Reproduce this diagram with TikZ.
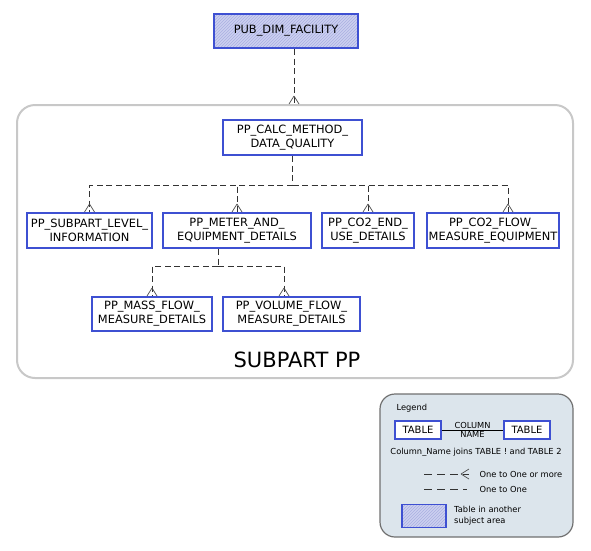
\documentclass[tikz,border=0pt]{standalone}
\usepackage{fontspec}
\setmainfont{DejaVu Sans}
\usetikzlibrary{patterns,decorations.markings}
\definecolor{tblue}{RGB}{62,80,210}
\definecolor{hatchbg}{RGB}{204,208,240}
\definecolor{hatchln}{RGB}{170,176,225}
\definecolor{areagray}{RGB}{200,200,200}
\definecolor{legfill}{RGB}{220,229,236}
\definecolor{legline}{RGB}{112,112,112}
\tikzset{
  tbl/.style={draw=tblue, line width=2pt, fill=white, align=center, inner sep=0pt,
    font=\fontsize{11.4}{14}\selectfont},
  other/.style={tbl, preaction={fill=hatchbg}, pattern=north east lines, pattern color=hatchln},
  rel/.style={draw=black!80, line width=0.8pt, dash pattern=on 6pt off 3.5pt},
  crow/.style={postaction={decorate, decoration={markings, mark=at position 1 with
    {\draw[solid, black!70, line width=0.7pt] (-8pt,0) -- (0,5pt) (-8pt,0) -- (0,-5pt);}}}},
}
\begin{document}
\begin{tikzpicture}[x=1pt, y=-1pt]
      \useasboundingbox (0,0) rectangle (591,550);

      \node[draw=areagray, line width=2pt, rounded corners=18pt, minimum width=556pt, minimum height=273pt] (area) at (295,241.5) {};
      \node[font=\fontsize{21}{24}\selectfont] (title) at (297,360) {SUBPART PP};

      \node[other, minimum width=144pt, minimum height=34pt] (pub) at (286,31) {PUB\_DIM\_FACILITY};
      \node[tbl, minimum width=139pt, minimum height=35pt] (calc) at (292.5,137.5) {PP\_CALC\_METHOD\_\\DATA\_QUALITY};

      \node[tbl, minimum width=125pt, minimum height=35pt] (sub)  at (89.5,230.5) {PP\_SUBPART\_LEVEL\_\\INFORMATION};
      \node[tbl, minimum width=148pt, minimum height=35pt] (meter) at (237,230.5) {PP\_METER\_AND\_\\EQUIPMENT\_DETAILS};
      \node[tbl, minimum width=92pt, minimum height=35pt] (enduse) at (368,230.5) {PP\_CO2\_END\_\\USE\_DETAILS};
      \node[tbl, minimum width=132pt, minimum height=35pt] (flow) at (493,230.5) {PP\_CO2\_FLOW\_\\MEASURE\_EQUIPMENT};

      \node[tbl, minimum width=120pt, minimum height=34pt] (mass) at (152,314) {PP\_MASS\_FLOW\_\\MEASURE\_DETAILS};
      \node[tbl, minimum width=137pt, minimum height=34pt] (vol)  at (291.5,314) {PP\_VOLUME\_FLOW\_\\MEASURE\_DETAILS};

      \coordinate (bus1) at (292.5,185);
      \coordinate (bus2) at (218,266);

      \draw[rel, crow] ([xshift=8pt]pub.south) -- ([xshift=8pt]pub.south |- area.north);
      \draw[rel] (calc) -- (bus1);
      \draw[rel, crow] (bus1) -| (sub);
      \draw[rel, crow] (bus1) -| (meter);
      \draw[rel, crow] (bus1) -| (enduse);
      \draw[rel, crow] (bus1) -| ([xshift=15pt]flow.north);
      \draw[rel] ([xshift=-19pt]meter.south) -- (bus2);
      \draw[rel, crow] (bus2) -| (mass);
      \draw[rel, crow] (bus2) -| ([xshift=-7.5pt]vol.north);

      % legend
      \node[draw=legline, line width=1.2pt, fill=legfill, rounded corners=15pt, minimum width=193pt, minimum height=143pt] (legend) at (476.5,465.5) {};
      \node[anchor=west, font=\fontsize{8.3}{10}\selectfont] (legtitle) at (393,408) {Legend};
      \node[tbl, line width=1.5pt, font=\fontsize{10}{12}\selectfont, minimum width=46pt, minimum height=18pt] (t1) at (418,430) {TABLE};
      \node[tbl, line width=1.5pt, font=\fontsize{10}{12}\selectfont, minimum width=46pt, minimum height=18pt] (t2) at (527,430) {TABLE};
      \draw[line width=0.7pt] (t1) -- (t2)
        node[midway, above, inner sep=1pt, font=\fontsize{8.3}{10}\selectfont] {COLUMN}
        node[midway, below, inner sep=1.5pt, font=\fontsize{8.3}{10}\selectfont] {NAME};
      \node[font=\fontsize{8.3}{10}\selectfont] (joins) at (476,452) {Column\_Name joins TABLE ! and TABLE 2};

      \coordinate (l1a) at (424,474);
      \coordinate (l1b) at (469,474);
      \coordinate (l2a) at (424,489);
      \coordinate (l2b) at (467,489);
      \draw[rel, crow, dash pattern=on 8pt off 5pt] (l1a) -- (l1b);
      \draw[rel, dash pattern=on 8pt off 5pt] (l2a) -- (l2b);
      \node[anchor=west, font=\fontsize{8.3}{10}\selectfont] (onemore) at (476,474) {One to One or more};
      \node[anchor=west, font=\fontsize{8.3}{10}\selectfont] (oneone) at (476,489) {One to One};

      \node[other, line width=1.5pt, minimum width=44pt, minimum height=23pt] (hatch) at (424,516) {};
      \node[anchor=west, align=left, inner sep=0pt, font=\fontsize{8.3}{11}\selectfont] (another) at (454,516) {Table in another\\subject area};
      %\draw[rel] (hatch) -- (another);
\end{tikzpicture}
\end{document}
